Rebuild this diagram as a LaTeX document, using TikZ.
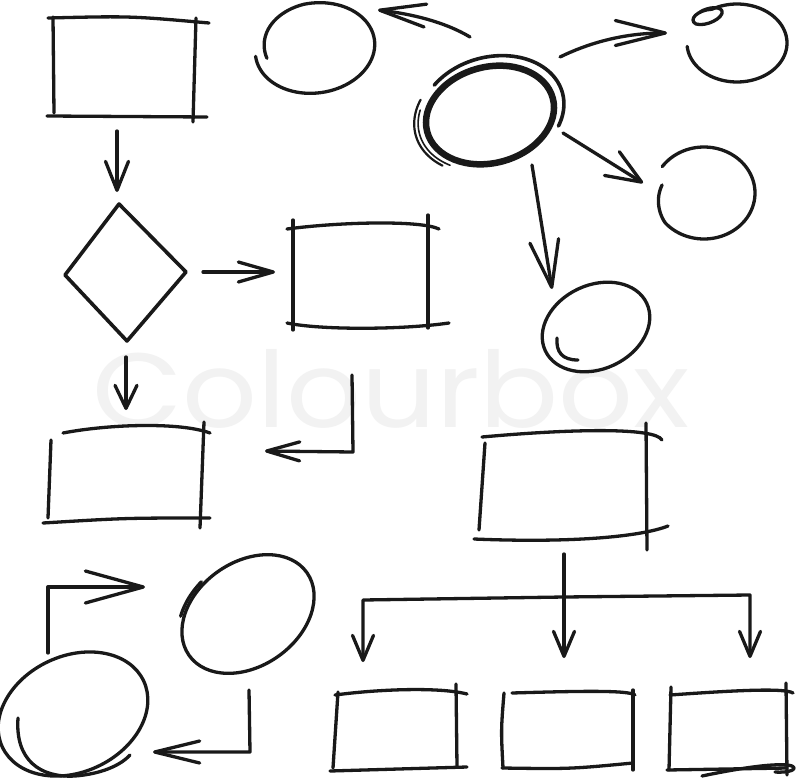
\documentclass[tikz,border=0pt]{standalone}
\usepackage{graphicx}
\usepackage{fontspec}
\newfontfamily\wmfont{Poppins}
\usetikzlibrary{arrows.meta}
\begin{document}
\begin{tikzpicture}[x=1pt,y=-1pt,line cap=round,line join=round,
  ink/.style={line width=3.3pt,draw=black!90},
  thick ink/.style={line width=6.5pt,draw=black!90},
  arr/.style 2 args={ink,-{Straight Barb[length=#1,width=#2,round]}}]
\useasboundingbox (0,0) rectangle (800,781);
\fill[white] (0,0) rectangle (800,781);
% watermark
\node[text=black!5,inner sep=0pt] (wm) at (391,389) {\resizebox{597pt}{78pt}{\wmfont Colourbox}};

% ---------- rectangle 1 ----------
\draw[ink] (48,18) .. controls (130,16) .. (209,23);
\draw[ink] (53,17) -- (54,113);
\draw[ink] (196,18) -- (193,122);
\draw[ink] (47,116) -- (207,117);
\coordinate (r1b) at (117,131);
\coordinate (dmT) at (119,204);
\coordinate (dmR) at (186,272);
\coordinate (dmB) at (127,341);
\coordinate (dmL) at (65,275);
\coordinate (dmin) at (117,192);
\draw[arr={29pt}{23pt}] (r1b) -- (dmin);
% ---------- diamond ----------
\draw[ink,line width=3.6pt] (dmT) -- (dmR) -- (dmB) -- (dmL) -- cycle;
% ---------- rectangle 2 ----------
\coordinate (dmout) at (203,272);
\coordinate (r2in) at (275,272);
\draw[arr={35pt}{20pt}] (dmout) -- (r2in);
\draw[ink] (287,229) .. controls (340,222) and (420,220) .. (439,229);
\draw[ink] (293,220) -- (293,330);
\draw[ink] (428,215) -- (428,328);
\draw[ink] (287,323) .. controls (320,330) and (400,330) .. (449,323);
% ---------- arrow to rectangle 3 ----------
\coordinate (dmdown) at (126,357);
\coordinate (r3in) at (126,410);
\draw[arr={23pt}{22pt}] (dmdown) -- (r3in);
% ---------- rectangle 3 ----------
\draw[ink] (63,433) .. controls (110,424) and (180,422) .. (210,433);
\draw[ink] (51,440) -- (48,518);
\draw[ink] (204,422) -- (200,528);
\draw[ink] (43,523) .. controls (125,518) .. (210,518);
% ---------- elbow arrow ----------
\coordinate (el1) at (352,375);
\coordinate (el1c) at (353,452);
\coordinate (el1t) at (265,451);
\draw[arr={33pt}{19pt}] (el1) -- (el1c) -- (el1t);

% ---------- ellipse A ----------
\draw[ink,rotate around={8:(315,48)}] plot[domain=175:540,samples=90,smooth,variable=\t]
  ({315+60*(1-0.18*max(0,1-(\t-175)/90))*cos(\t)},{48+45*(1-0.1*max(0,1-(\t-175)/90))*sin(\t)});
\coordinate (e0a) at (470,37);
\coordinate (aT) at (378,10);
\draw[arr={46pt}{23pt}] (e0a) .. controls (445,22) and (412,14) .. (aT);

% ---------- big ellipse E0 ----------
\draw[thick ink,rotate around={15:(490,115)}] (490,115) ellipse [x radius=65pt,y radius=48pt];
\draw[ink,line width=3.6pt,rotate around={15:(492,112)}] plot[domain=228:394,samples=60,smooth,variable=\t]
  ({492+73*cos(\t)},{112+55*sin(\t)});
\draw[ink,line width=2.2pt,rotate around={15:(490,115)}] plot[domain=140:215,samples=30,smooth,variable=\t]
  ({490+77*cos(\t)},{115+57*sin(\t)});
\draw[ink,line width=1.6pt,rotate around={15:(490,115)}] plot[domain=135:205,samples=30,smooth,variable=\t]
  ({490+73*cos(\t)},{115+54*sin(\t)});

% ---------- top-right ellipse ----------
\coordinate (e0b) at (560,57);
\coordinate (trT) at (667,33);
\draw[arr={50pt}{25pt}] (e0b) .. controls (595,40) and (630,33) .. (trT);
\draw[ink] plot[domain=-120:175,samples=80,smooth,variable=\t]
  ({737+50*cos(\t)},{43+39*sin(\t)});
\draw[ink] (712,9.2) .. controls (697,10) and (688,20) .. (696,24)
  .. controls (706,27) and (724,18) .. (722,11) .. controls (720,6) and (708,7) .. (700,12);

% ---------- mid-right ellipse ----------
\coordinate (e0c) at (563,133);
\coordinate (mrT) at (643,183);
\draw[arr={35pt}{28pt}] (e0c) -- (mrT);
\draw[ink] plot[domain=215:552,samples=90,smooth,variable=\t]
  ({704+51*(1-0.16*max(0,(\t-500)/52))*cos(\t)},{193+46*(1-0.16*max(0,(\t-500)/52))*sin(\t)});

% ---------- lower ellipse ----------
\coordinate (e0d) at (532,165);
\coordinate (loT) at (552,289);
\draw[arr={47pt}{29pt}] (e0d) -- (loT);
\draw[ink,rotate around={25:(596,327)}] (596,327) ellipse [x radius=56pt,y radius=42pt];
\draw[ink] (557,338) .. controls (556,352) and (562,360) .. (578,360);

% ---------- rectangle 4 and tree ----------
\draw[ink] (482,437) .. controls (570,429) and (655,427) .. (662,440);
\draw[ink] (485,443) -- (479,530);
\draw[ink] (646,423) -- (647,550);
\draw[ink] (474,539) .. controls (570,543) and (640,537) .. (668,526);
\coordinate (r4b) at (564,554);
\coordinate (r6t) at (564,658);
\coordinate (hm) at (564,597);
\coordinate (hl) at (363,600);
\coordinate (hr) at (750,595);
\coordinate (r5t) at (363,662);
\coordinate (r7t) at (750,658);
\draw[arr={25pt}{21pt}] (r4b) -- (r6t);
\draw[arr={25pt}{21pt}] (hm) -- (hl) -- (r5t);
\draw[arr={25pt}{21pt}] (hm) -- (hr) -- (r7t);

% ---------- rectangle 5 ----------
\draw[ink] (335,695) .. controls (380,689) and (440,687) .. (467,694);
\draw[ink] (338,692) -- (333,768);
\draw[ink] (456,684) -- (457,767);
\draw[ink] (330,771) -- (467,767);
% ---------- rectangle 6 ----------
\draw[ink] (512,693) .. controls (580,691) and (628,690) .. (635,695);
\draw[ink] (504,693) .. controls (501,730) .. (503,768);
\draw[ink] (633,690) -- (633,770);
\draw[ink] (502,768) .. controls (570,769) .. (633,763);
% ---------- rectangle 7 ----------
\draw[ink] (670,695) .. controls (740,690) and (785,688) .. (793,693);
\draw[ink] (671,687) -- (669,770);
\draw[ink] (786,683) -- (787,775);
\draw[ink] (667,770) -- (787,768);
\draw[ink] (702,776) .. controls (740,768) and (780,762) .. (792,766)
  .. controls (798,769) and (790,773) .. (775,772);

% ---------- bottom-left group ----------
\coordinate (bl1) at (48,653);
\coordinate (bl1c) at (48,587);
\coordinate (bl1t) at (145,587);
\draw[arr={58pt}{32pt}] (bl1) -- (bl1c) -- (bl1t);
\draw[ink,rotate around={35:(248,614)}] (248,614) ellipse [x radius=72pt,y radius=52pt];
\draw[ink,rotate around={35:(248,614)}] plot[domain=222:255,samples=15,smooth,variable=\t]
  ({248+76*cos(\t)},{614+55*sin(\t)});
\draw[ink,rotate around={25:(73,714)}] (73,714) ellipse [x radius=78pt,y radius=58pt];
\draw[ink] (18,718) .. controls (15,760) and (40,778) .. (75,776) .. controls (100,774) and (120,766) .. (130,755);
\coordinate (bl2) at (249,690);
\coordinate (bl2c) at (250,752);
\coordinate (bl2t) at (153,752);
\draw[arr={45pt}{22pt}] (bl2) -- (bl2c) -- (bl2t);
\end{tikzpicture}
\end{document}
